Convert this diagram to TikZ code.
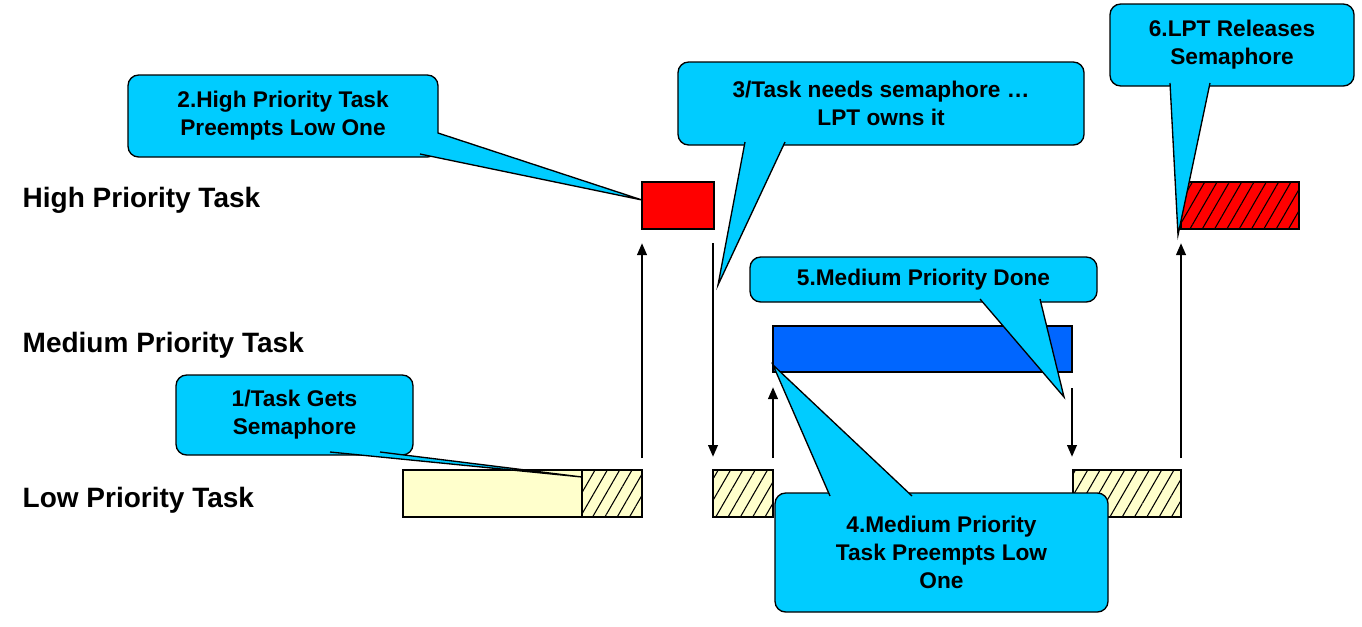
\documentclass[tikz,border=0pt]{standalone}
\usepackage{fontspec}
\setmainfont{Liberation Sans}
\usetikzlibrary{patterns.meta,arrows.meta}
\definecolor{callc}{HTML}{00CCFF}
\definecolor{cream}{HTML}{FFFFCC}
\definecolor{hired}{HTML}{FF0000}
\definecolor{mblue}{HTML}{0066FF}
\begin{document}
\begin{tikzpicture}[x=0.75pt,y=-0.75pt,
  lbl/.style={font=\fontsize{21}{25}\selectfont\bfseries,anchor=west},
  ctext/.style={font=\fontsize{17}{21}\selectfont\bfseries,align=center},
  box/.style={draw=black,line width=0.8pt},
  hatch/.style={pattern={Lines[angle=60,distance=8pt,line width=0.8pt]},pattern color=black},
  arr/.style={line width=2pt,-{Triangle[length=9pt,width=7pt]}},
  cbox/.style={fill=callc,draw=black,line width=1pt,rounded corners=8pt}]
\useasboundingbox (0,0) rectangle (1362,626);
% labels
\node[lbl] (lh) at (18,200) {High Priority Task};
\node[lbl] (lm) at (18,345) {Medium Priority Task};
\node[lbl] (ll) at (18,500) {Low Priority Task};
% bars
\draw[box,fill=cream] (403,470) rectangle (582,517);
\fill[cream] (582,470) rectangle (642,517);
\draw[box,hatch] (582,470) rectangle (642,517);
\fill[cream] (713,470) rectangle (773,517);
\draw[box,hatch] (713,470) rectangle (773,517);
\fill[cream] (1073,470) rectangle (1181,517);
\draw[box,hatch] (1073,470) rectangle (1181,517);
\draw[box,fill=hired] (642,182) rectangle (714,229);
\fill[hired] (1181,182) rectangle (1299,229);
\draw[box,hatch] (1181,182) rectangle (1299,229);
\draw[box,fill=mblue] (773,326) rectangle (1072,372);
% arrows
\coordinate (a1s) at (642,458); \coordinate (a1e) at (642,243);
\coordinate (a2s) at (713,243); \coordinate (a2e) at (713,457);
\coordinate (a3s) at (773,458); \coordinate (a3e) at (773,387);
\coordinate (a4s) at (1072,388); \coordinate (a4e) at (1072,457);
\coordinate (a5s) at (1181,458); \coordinate (a5e) at (1181,243);
\draw[arr] (a1s) -- (a1e);
\draw[arr] (a2s) -- (a2e);
\draw[arr] (a3s) -- (a3e);
\draw[arr] (a4s) -- (a4e);
\draw[arr] (a5s) -- (a5e);
% callouts
\newcommand{\callout}[9]{%
  \draw[cbox] (#1,#2) rectangle (#3,#4);
  \fill[callc] (#5) -- (#6) -- (#7) -- cycle;
  \draw[line width=1pt] (#5) -- (#6) -- (#7);
  \node[ctext] (#8) at ({(#1+#3)/2},{(#2+#4)/2}) {#9};}
\callout{176}{375}{413}{455}{380,452}{582,477}{330,452}{c1}{1/Task Gets\\Semaphore}
\callout{128}{75}{438}{157}{438,133}{642,200}{420,154}{c2}{2.High Priority Task\\Preempts Low One}
\callout{678}{62}{1084}{145}{745,142}{718,285}{785,142}{c3}{3/Task needs semaphore …\\LPT owns it}
\callout{775}{493}{1108}{612}{830,496}{773,365}{912,496}{c4}{4.Medium Priority\\Task Preempts Low\\One}
\callout{750}{257}{1097}{302}{980,299}{1064,397}{1040,299}{c5}{5.Medium Priority Done}
\callout{1110}{4}{1354}{86}{1170,83}{1178,235}{1210,83}{c6}{6.LPT Releases\\Semaphore}
\end{tikzpicture}
\end{document}
